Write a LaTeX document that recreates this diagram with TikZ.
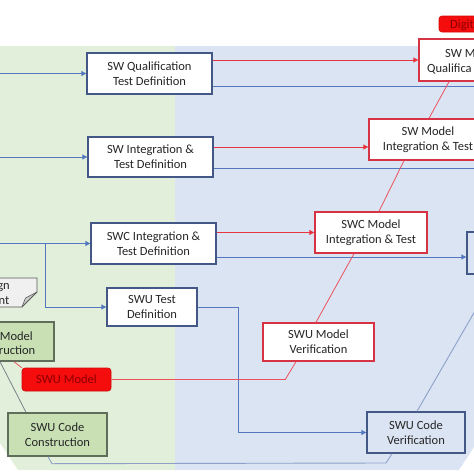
\documentclass[tikz,border=0pt]{standalone}
\usepackage{fontspec}
\setmainfont{Carlito}
\usetikzlibrary{arrows.meta,calc}
\definecolor{bggreen}{RGB}{226,239,218}
\definecolor{bgblue}{RGB}{219,228,243}
\definecolor{boxblue}{RGB}{68,88,135}
\definecolor{boxred}{RGB}{214,52,68}
\definecolor{grnfill}{RGB}{200,224,180}
\definecolor{grnborder}{RGB}{95,110,90}
\definecolor{lineblue}{RGB}{84,120,192}
\definecolor{linered}{RGB}{232,52,62}
\definecolor{lightline}{RGB}{140,160,200}
\definecolor{grayline}{RGB}{120,130,140}
\definecolor{txt}{RGB}{38,38,38}
\definecolor{labred}{RGB}{245,12,12}
\definecolor{labtxt}{RGB}{140,0,0}
\begin{document}
\begin{tikzpicture}[x=1pt,y=-1pt,
  box/.style={draw=boxblue, line width=1.4pt, fill=white, align=center, inner sep=0pt,
    font=\fontsize{12.5}{15}\selectfont, text=txt},
  redbox/.style={box, draw=boxred},
  grnbox/.style={box, fill=grnfill, draw=grnborder},
  vbox/.style={box, fill=bgblue},
  frag/.style={inner sep=0pt, font=\fontsize{12.5}{15}\selectfont, text=txt},
  tag/.style={fill=labred, draw=labred!85!black, line width=0.6pt, rounded corners=3pt,
    inner sep=0pt, font=\fontsize{12.5}{15}\selectfont, text=labtxt},
  blarrow/.style={draw=lineblue, line width=1pt, -{Triangle[length=5pt,width=5pt]}},
  blline/.style={draw=lineblue, line width=1pt},
  rdarrow/.style={draw=linered, line width=1pt, -{Triangle[length=5pt,width=5pt]}},
  rdline/.style={draw=linered!85!white, line width=0.8pt},
  gyline/.style={draw=grayline, line width=0.8pt},
  ltline/.style={draw=lightline, line width=0.9pt}
]
\useasboundingbox (0,0) rectangle (474,474);
\clip (0,0) rectangle (474,474);
% backgrounds
\fill[bggreen] (0,46) -- (175,46) -- (175,470) -- (18,470) -- (0,443) -- cycle;
\fill[bgblue] (175,46) -- (474,46) -- (474,447) -- (459,470) -- (175,470) -- cycle;

% definition boxes
\node[box, minimum width=125, minimum height=41] (sqt) at (149.5,73.5) {SW Qualification\\Test Definition};
\node[box, minimum width=125, minimum height=40] (sit) at (150.5,157) {SW Integration \&\\Test Definition};
\node[box, minimum width=125, minimum height=41] (scit) at (153.5,243.5) {SWC Integration \&\\Test Definition};
\node[box, minimum width=90, minimum height=38] (sut) at (152,307) {SWU Test\\Definition};

% model boxes
\node[redbox, minimum width=111, minimum height=42] (smq) at (474.5,60) {};
\node[frag, anchor=base west] (smqa) at (445,57) {SW M};
\node[frag, anchor=base west] (smqb) at (427,72) {Qualifica};
\node[redbox, minimum width=118, minimum height=41] (smit) at (428,139.5) {SW Model\\Integration \& Test};
\node[redbox, minimum width=112, minimum height=41] (scmit) at (371,232.5) {SWC Model\\Integration \& Test};
\node[redbox, minimum width=111, minimum height=38] (suv) at (318.5,342) {SWU Model\\Verification};

% verification boxes
\node[vbox, minimum width=93, minimum height=42] (rbox) at (513.5,253) {};
\node[vbox, minimum width=98, minimum height=41] (scv) at (416,432.5) {SWU Code\\Verification};

% construction boxes
\node[grnbox, minimum width=103, minimum height=39] (smc) at (2.5,341.5) {};
\node[frag, anchor=base east] (smca) at (33,340.5) {Model};
\node[frag, anchor=base east] (smcb) at (35.5,354.5) {ruction};
\node[grnbox, minimum width=99, minimum height=43] (scc) at (57.5,434.5) {SWU Code\\Construction};

% design document (note)
\fill[gray!12] (-5,278) -- (37,278) -- (37,292) -- (22,307) -- (-5,307) -- cycle;
\fill[gray!40] (22,307) -- (25.5,298) -- (37,292) -- cycle;
\draw[gray!70!black, line width=0.9pt] (-5,278) -- (37,278) -- (37,292) -- (22,307) -- (-5,307);
\draw[gray!70!black, line width=0.6pt] (22,307) -- (25.5,298) -- (37,292);
\node[frag, anchor=base east] (dda) at (10,289) {gn};
\node[frag, anchor=base east] (ddb) at (9.5,304) {nt};

% labels
\node[tag, minimum width=89, minimum height=23] (swum) at (66.5,379.5) {SWU Model};
\node[tag, minimum width=70, minimum height=16] (dig) at (474,24) {};
\node[frag, text=labtxt, anchor=base west] (diga) at (450,28.5) {Digit};

% inputs from left
\coordinate (in1) at (0,73.5);
\coordinate (in2) at (0,157);
\coordinate (in3) at (0,243.5);
\draw[blarrow] (in1) -- (sqt.west);
\draw[blarrow] (in2) -- (sit.west);
\draw[blarrow] (in3) -- (scit.west);
\draw[blarrow] (45,243.5) |- (sut.west);

% outputs of definitions
\draw[rdarrow] ($(sqt.east)+(0,-13.5)$) coordinate (r1) -- (r1 -| smq.west);
\coordinate (o1) at (474,86);
\draw[blline] ($(sqt.east)+(0,12.5)$) -- (o1);
\draw[rdarrow] ($(sit.east)+(0,-10)$) coordinate (r2) -- (r2 -| smit.west);
\coordinate (o2) at (474,168);
\draw[blline] ($(sit.east)+(0,11)$) -- (o2);
\draw[rdarrow] ($(scit.east)+(0,-11)$) coordinate (r3) -- (r3 -| scmit.west);
\draw[blarrow] ($(scit.east)+(0,13.5)$) coordinate (b3) -- (b3 -| rbox.west);
\draw[blarrow] (sut.east) -- ++(41,0) |- (scv.west);

% SWU model to verification
\draw[rdline] (swum.east) -- ++(174,0) -- ([xshift=-22.5pt]suv.south);
% red diagonal chain
\draw[rdline] ([xshift=-2.5pt]suv.north) -- ([xshift=-17pt]scmit.south);
\draw[rdline] ([xshift=8pt]scmit.north) -- ([xshift=-24pt]smit.south);
\draw[rdline] ([xshift=1pt]smit.north) -- ([xshift=-25.5pt]smq.south);

% construction links
\draw[gyline] ([xshift=-2.5pt]smc.south) -- ([xshift=-31.5pt]scc.north);
\draw[rdline] ([xshift=11.5pt]smc.south) -- (swum.north west);
\draw[ltline] ([xshift=-9.5pt]scc.south) -- ++(4,7) -- (386,463) -- ([xshift=-24pt]scv.south);
\draw[ltline] ([xshift=1pt]scv.north) -- ([xshift=-17.5pt]rbox.south);
\end{tikzpicture}
\end{document}
